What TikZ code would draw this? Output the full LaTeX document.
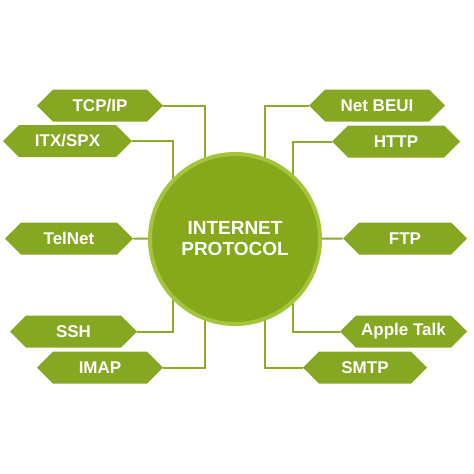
\documentclass[tikz,border=0pt]{standalone}
\usepackage{fontspec}
\setmainfont{Liberation Sans}
\usepackage{tikz}
\usetikzlibrary{shapes.symbols,backgrounds}
\definecolor{tagGreen}{HTML}{86A721}
\definecolor{hubGreen}{HTML}{88A81C}
\definecolor{ringGreen}{HTML}{A3C43C}
\definecolor{wireGreen}{HTML}{8CAB2B}
\tikzset{
	tag/.style={signal, signal to=west and east, signal pointer angle=90, fill=tagGreen,
		minimum height=32pt, inner sep=0pt, text=white, font=\fontsize{17}{17}\selectfont\bfseries},
	hub/.style={circle, fill=hubGreen, draw=ringGreen, line width=4pt, minimum size=170pt,
		inner sep=0pt, text=white, align=center, font=\fontsize{19}{21}\selectfont\bfseries},
	wire/.style={draw=wireGreen, line width=2pt}
}

\begin{document}
\begin{tikzpicture}[x=1pt,y=-1pt]
			%%%%% START %%%%%
			\useasboundingbox (0,0) rectangle (474,474);
			
			\node[hub] (ip) at (235, 239) {INTERNET\\PROTOCOL};
			
			\node[tag, minimum width=126pt] (tcp) at (100, 105.5) {TCP/IP};
			\node[tag, minimum width=129pt] (itx) at (67.5, 141) {ITX/SPX};
			\node[tag, minimum width=128pt] (telnet) at (69, 238.5) {TelNet};
			\node[tag, minimum width=127pt] (ssh) at (73.5, 331.5) {SSH};
			\node[tag, minimum width=126pt] (imap) at (100, 367.5) {IMAP};
			
			\node[tag, minimum width=136pt] (beui) at (377, 105.5) {Net BEUI};
			\node[tag, minimum width=128pt] (http) at (396, 141.5) {HTTP};
			\node[tag, minimum width=124pt] (ftp) at (405, 238.5) {FTP};
			\node[tag, minimum width=127pt] (apple) at (403.5, 331.5) {Apple Talk};
			\node[tag, minimum width=124pt] (smtp) at (365, 367.5) {SMTP};
			
			\begin{scope}[on background layer]
				\draw[wire] (tcp.east) -| ([xshift=-30pt]ip.center);
				\draw[wire] (itx.east) -| ([xshift=-62pt]ip.center);
				\draw[wire] (telnet.east) -- (ip.center);
				\draw[wire] (ssh.east) -| ([xshift=-62pt]ip.center);
				\draw[wire] (imap.east) -| ([xshift=-30pt]ip.center);
				
				\draw[wire] (beui.west) -| ([xshift=30pt]ip.center);
				\draw[wire] (http.west) -| ([xshift=58pt]ip.center);
				\draw[wire] (ftp.west) -- (ip.center);
				\draw[wire] (apple.west) -| ([xshift=58pt]ip.center);
				\draw[wire] (smtp.west) -| ([xshift=30pt]ip.center);
			\end{scope}
			%%%%% END %%%%%
\end{tikzpicture}
\end{document}
